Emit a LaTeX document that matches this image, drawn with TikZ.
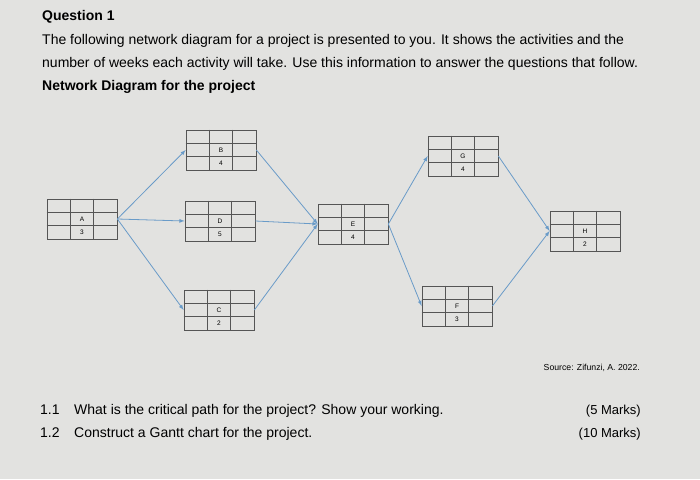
\documentclass[tikz,border=0pt]{standalone}
\usepackage{fontspec}
\setmainfont{Liberation Sans}
\usepackage{tikz}
\usetikzlibrary{shapes,arrows,calc}
\definecolor{paper}{RGB}{226,226,224}
\definecolor{linkblue}{RGB}{105,155,200}
\definecolor{gridgray}{RGB}{85,85,85}
\tikzstyle{activity} = [rectangle, draw=gridgray, line width=0.7pt,
    minimum width=70pt, minimum height=40pt, inner sep=0pt]
\tikzstyle{celltext} = [font=\fontsize{6.5}{7}\selectfont, inner sep=0pt]
\tikzstyle{arrow} = [draw=linkblue, -latex, line width=0.8pt]
\tikzstyle{textline} = [anchor=base west, inner sep=0pt, font=\fontsize{14}{16}\selectfont]
\tikzstyle{marks} = [anchor=base east, inner sep=0pt, font=\fontsize{13}{15}\selectfont]
% one activity box: name, position, letter, weeks
\newcommand{\actbox}[4]{%
  \node [activity] (#1) at #2 {};
  \draw [gridgray, line width=0.7pt]
    ($(#1.north west)!1/3!(#1.south west)$) -- ($(#1.north east)!1/3!(#1.south east)$)
    ($(#1.north west)!2/3!(#1.south west)$) -- ($(#1.north east)!2/3!(#1.south east)$)
    ($(#1.north west)!1/3!(#1.north east)$) -- ($(#1.south west)!1/3!(#1.south east)$)
    ($(#1.north west)!2/3!(#1.north east)$) -- ($(#1.south west)!2/3!(#1.south east)$);
  \node [celltext] at (#1) {#3};
  \node [celltext] at ($(#1.center)!2/3!(#1.south)$) {#4};
}
\begin{document}
\begin{tikzpicture}[x=1pt, y=-1pt]
	\fill [paper] (0,0) rectangle (700,479);
	\useasboundingbox (0,0) rectangle (700,479);
	% Texts
	\node [textline, font=\bfseries\fontsize{14}{16}\selectfont] (title) at (42,20) {Question 1};
	\node [textline] (intro1) at (42,44) {The following network diagram for a project is presented to you. It shows the activities and the};
	\node [textline] (intro2) at (42,67) {number of weeks each activity will take. Use this information to answer the questions that follow.};
	\node [textline, font=\bfseries\fontsize{14}{16}\selectfont] (heading) at (42,90) {Network Diagram for the project};
	
	% Place nodes
	\actbox{actA}{(82,219)}{A}{3}
	\actbox{actB}{(221,150)}{B}{4}
	\actbox{actD}{(220,221)}{D}{5}
	\actbox{actC}{(219,310)}{C}{2}
	\actbox{actE}{(353,224)}{E}{4}
	\actbox{actG}{(463,156)}{G}{4}
	\actbox{actF}{(457,306)}{F}{3}
	\actbox{actH}{(585,231)}{H}{2}
	
	\path [arrow] (actA.east) -- (actB.west);
	\path [arrow] (actA.east) -- (actD.west);
	\path [arrow] (actA.east) -- (actC.west);
	\path [arrow] (actB.east) -- (actE.west);
	\path [arrow] (actD.east) -- (actE.west);
	\path [arrow] (actC.east) -- (actE.west);
	\path [arrow] (actE.east) -- (actG.west);
	\path [arrow] (actE.east) -- (actF.west);
	\path [arrow] (actG.east) -- (actH.west);
	\path [arrow] (actF.east) -- (actH.west);
	
	\node [anchor=base east, inner sep=0pt, font=\fontsize{8.7}{10}\selectfont] (source) at (640,370) {Source: Zifunzi, A. 2022.};
	\node [textline] (q1num) at (40,414) {1.1};
	\node [textline] (q1) at (74,414) {What is the critical path for the project? Show your working.};
	\node [marks] (q1marks) at (641,414) {(5 Marks)};
	\node [textline] (q2num) at (40,437) {1.2};
	\node [textline] (q2) at (74,437) {Construct a Gantt chart for the project.};
	\node [marks] (q2marks) at (641,437) {(10 Marks)};
\end{tikzpicture}
\end{document}
